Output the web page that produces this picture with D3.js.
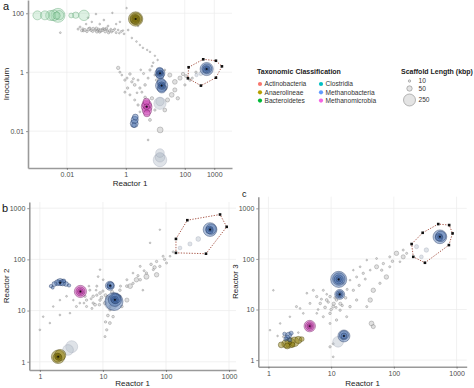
<!DOCTYPE html>
<html>
<head>
<meta charset="utf-8">
<script src="https://cdnjs.cloudflare.com/ajax/libs/d3/7.8.5/d3.min.js"></script>
<style>
  body { margin: 0; background: #fff; }
  svg { display: block; font-family: "Liberation Sans", Arial, sans-serif; }
</style>
</head>
<body>
<div id="chart"></div>
<script>
// taxa + colours (ggplot default hues)
var taxa = ['Actinobacteria', 'Anaerolineae', 'Bacteroidetes', 'Clostridia', 'Methanobacteria', 'Methanomicrobia'];
var taxColors = ['#F8766D', '#B79F00', '#00BA38', '#00BFC4', '#619CFF', '#F564E3'];
var sizeLegend = [10, 50, 250];

// tick values
var ticksA_x = [0.01, 1, 100, 1000];
var ticksA_y = [0.01, 1, 100];
var ticksBC = [1, 10, 100, 1000];

// ---- panel a : Reactor 1 vs Inoculum  [x, y, scaffold kbp]
var grayA = [
  [0.024,29,8],[0.032,26,12],[0.035,30,6],[0.041,27,15],[0.048,24,10],[0.056,29,20],[0.066,26,8],
  [0.078,30,14],[0.09,27,10],[0.105,24,18],[0.12,29,8],[0.14,26,22],[0.17,30,10],[0.2,24,14],
  [0.23,27,8],[0.26,22,12],[0.31,29,6],[0.37,26,10],[0.47,22,8],[0.55,27,6],[0.7,24,8],[0.87,20,6],
  [0.06,31,12],[0.075,24,8],[0.1,31,12],[0.13,23,10],[0.16,27,16],[0.19,29,8],[0.28,25,10],
  [0.33,23,6],[0.42,29,8],[0.6,21,5],[0.8,26,5],[0.036,25,6],[0.22,31,10],[0.11,26,6],
  [0.052,71,5],[0.097,94,5],[0.18,59,6],[0.35,103,4],[0.63,51,5],[1.06,150,4],[1.6,51,5],[2.6,37,5],
  [0.13,43,6],[0.07,51,5],[0.47,43,5],[1.2,27,6],[0.045,43,5],[0.028,34,8],[0.25,37,6],[0.006,22,6],
  [1.6,14.5,5],[2.3,11,5],[3,8.4,4],[3.8,6.7,5],[5.3,5.7,4],[6.6,4.9,5],[9.7,3.6,4],[12,2.6,5],
  [0.55,1.4,20],[0.63,1,8],[0.73,0.8,6],[0.93,0.54,10],[1.1,0.63,8],[1.38,0.87,12],[1.6,0.47,10],
  [2,0.37,14],[2.6,0.54,8],[3,0.29,10],[3.5,0.21,8],[4.5,0.37,12],[5.7,0.63,8],[6.6,1.19,10],
  [7.7,1.6,6],[9.7,0.8,8],[11,0.54,10],[21,1.19,6],[31,0.8,30],[46,0.47,40],[69,0.63,30],
  [87,0.87,20],[110,0.74,15],[36,0.17,40],[26,0.114,30],[21,0.052,25],[46,0.25,30],[58,0.13,20],
  [6.6,0.024,15],[7.7,0.13,20],[4.5,0.14,12],[2.6,0.077,10],[2,0.114,8],[3,0.045,6],[1.38,0.17,8],
  [9.7,0.052,10],[5.7,0.005,6],[21,0.29,40],[150,0.54,12],[101,0.37,10],[0.93,0.21,8],[1.15,0.29,10],
  [240,1,10],[180,0.63,8],[14.6,0.011,60],[3.2,1.2,6],[4,0.9,8],[8.5,2.1,5],[2.4,0.2,6],[1.8,0.6,8]
];
var paleA = [
  [14.4,0.1,120],[14.4,0.088,260],[14.4,0.0018,130],[14.4,0.00105,320],[14.4,0.0013,160],
  [350,0.9,30],[250,0.8,20]
];
var bacteroidetesA = [
  [0.001,85,140],[0.0018,85,140],[0.0028,84,170],[0.0036,85,200],[0.005,85,340],[0.0045,83,90],
  [0.0055,86,150],[0.014,84,40],[0.02,86,70],[0.038,85,190]
];
var anaerolineaeA = [[2.15,64,360],[2.2,65,240],[2.1,63,150],[2.15,64,90],[2.15,64,40],[2.15,64,8]];
var methanobacteriaA = [
  [14,1.1,90],[14.4,0.92,170],[14.6,0.8,110],[14.4,0.92,70],[14.4,0.92,30],[14.4,0.92,8],
  [16,0.45,120],[16.4,0.35,260],[16.6,0.28,140],[16.4,0.35,100],[16.4,0.35,45],[16.4,0.35,8],
  [2.1,0.03,60],[2,0.024,90],[1.93,0.018,110],[1.9,0.016,40],
  [552,1.28,300],[560,1.3,170],[545,1.26,90],[552,1.28,35],[552,1.28,8]
];
var methanomicrobiaA = [[5,0.1,80],[5.1,0.08,150],[5.1,0.067,200],[5.2,0.05,150],[5.2,0.04,80],[5.1,0.067,60],[5.1,0.067,8]];
var hullA = [[135,1.47],[423,2.74],[1140,2.45],[1820,1.58],[1140,0.65],[353,0.35],[128,0.62]];

// ---- panel b : Reactor 1 vs Reactor 2
var grayB = [
  [1,4.2,6],[1.44,5.7,5],[2.08,8.2,6],[3,8.9,5],[3.8,12,8],[5.5,16,10],[7,19,12],[9,22,14],
  [8,30,8],[8.4,46,6],[6.2,25,8],[4.9,22,6],[12.9,5.7,15],[14.5,7.6,12],[11.5,4.2,10],[10.8,3.1,8],
  [12.9,10.3,10],[18.6,25,12],[24,30,14],[30,34,10],[39,40,12],[49,54,10],[63,63,8],[80,73,10],
  [102,85,8],[116,115,6],[90,115,8],[71,91,10],[56,210,5],[80,380,4],[39,73,8],[30,54,6],
  [24,40,8],[18.6,19,12],[16.5,16,10],[9,16,12],[7,14,10],[5.5,12,8],[4.3,14,6],[3.4,16,5],
  [2.65,19,6],[2.08,16,5],[1.63,12,5],[1.13,7.6,5],[9,63,5],[10.1,40,6],[43,25,6],
  [27,30,40],[34,40,35],[49,46,45],[71,50,35],[24,16,30],[10.8,14,20],[7.5,13,15],[11.8,18,25],
  [14,23,20],[5.2,19,10],[6.7,11,8],[12,8,14],[11,6,10],[20,12,12],[17,20,10],[6,30,6],
  [8,20,10],[9.5,18,14],[10,24,10],[6.5,17,8],[8.8,13,12],[11,20,16],[7.8,25,6],[5,14,6],
  [13,12,10],[19,30,8],[36,48,10],[45,60,8],[58,80,12],[66,70,20],[95,100,10],[130,140,8]
];
var paleB = [[3.2,1.97,250],[2.8,1.7,200],[13.5,14,320],[167,167,25],[240,200,30],[325,250,40]];
var anaerolineaeB = [[1.95,1.25,320],[2.1,1.35,220],[1.9,1.2,140],[1.95,1.25,70],[1.95,1.25,25],[1.95,1.25,8]];
var methanobacteriaB = [
  [1.5,30,20],[1.7,33,40],[1.9,35,60],[2.1,36,90],[2.3,35,70],[2.6,33,40],[2.9,31,20],[2.1,36,15],
  [1.6,28,15],[2.4,38,25],[2.1,35,8],
  [12.9,30.5,140],[13.2,31,80],[12.6,30,35],[13,30.5,8],
  [15,15,560],[15.5,16.2,300],[15.8,17,170],[15.5,16.2,90],[15.5,16.2,35],[15.5,16.2,8],
  [500,382,330],[520,390,190],[490,375,100],[500,382,35],[500,382,8]
];
var methanomicrobiaB = [[4.4,23.6,260],[4.4,23.6,140],[4.4,23.6,60],[4.4,23.6,20],[4.4,23.6,6]];
var hullB = [[144,251],[218,582],[720,752],[918,432],[431,129],[144,134]];

// ---- panel c : Reactor 1 vs Reactor 3
var grayC = [
  [1.2,24,5],[1.06,3.9,5],[1.54,5.3,5],[1.73,2.9,6],[2.8,11.4,8],[3.2,10.5,6],[4.1,21,6],[5.2,24,8],
  [5.9,18,10],[6.7,13.2,12],[7.5,24,8],[8.5,15.4,14],[9.6,18,12],[10.8,11.4,15],[12.2,15.4,12],
  [13.9,9.7,10],[9.6,8.4,12],[7.5,7.2,8],[5.9,8.4,6],[12.2,6.2,10],[9.6,5.3,8],[15.6,33,8],
  [20,38,6],[22.6,24,10],[25.5,44,8],[32.5,52,10],[42,60,6],[53,70,30],[68,81,10],[86,110,8],
  [110,129,35],[141,150,8],[76,44,35],[60,33,10],[47,24,35],[42,15.4,35],[37,11.4,8],[44,5.3,40],
  [47,4.6,30],[25.5,15.4,10],[20,11.4,12],[17.7,7.2,8],[29,70,6],[22.6,60,5],[37,95,5],[53,102,6],
  [86,70,8],[125,88,6],[160,129,8],[9.6,1.83,10],[10.8,2.1,8],[10.8,1.16,6],[4.6,13.2,8],
  [3.6,8.4,6],[2.2,7.2,5],[141,110,30],[11,13,20],[8,11,14],[14,13,18],[17,17,12],
  [9,14,10],[10,10,12],[12,11,8],[7,16,8],[8.5,20,6],[11.5,17,10],[6.2,10,6],[15,12,10],
  [18,25,8],[28,30,10],[35,40,8],[64,60,10],[95,90,12],[3,3.5,5],[1.4,3,5]
];
var paleC = [[12.9,2.3,200],[230,175,30],[275,110,25],[330,150,35]];
var anaerolineaeC = [[1.6,2,60],[1.9,2.1,120],[2.2,2.2,180],[2.6,2.3,160],[3,2.5,90],[3.4,2.6,40],[2,1.9,60],[2.4,2,50],[2.2,2.2,20]];
var methanobacteriaC = [
  [13.2,39.4,450],[13.3,40,270],[13.2,39.4,140],[13.2,39.4,50],[13.2,39.4,8],
  [13.7,19.9,170],[13.7,20,90],[13.7,19.9,35],[13.7,19.9,8],
  [16,3,250],[16,3.1,140],[16,3,60],[16,3,8],
  [2.1,3.1,60],[2,2.8,40],[2.3,3.4,30],[1.9,2.6,30],[2.2,2.5,25],[1.8,3.3,20],
  [542,274,330],[560,280,190],[525,268,100],[542,274,35],[542,274,8]
];
var methanomicrobiaC = [[4.56,4.7,230],[4.56,4.7,130],[4.56,4.7,55],[4.56,4.7,20],[4.56,4.7,6]];
var hullC = [[192,197],[288,329],[510,489],[762,467],[863,320],[754,188],[313,84],[204,110]];

var W = 474, H = 388;
var svg = d3.select('#chart').append('svg').attr('width', W).attr('height', H);

var rScale = d3.scaleSqrt().domain([0, 250]).range([0, 6]);

var styles = {
  gray:            {fill: '#c2c2c2', fo: 0.5,  stroke: '#6f6f6f', so: 0.75},
  pale:            {fill: '#b9c0cc', fo: 0.45, stroke: '#8a94a6', so: 0.6},
  Bacteroidetes:   {fill: '#9fd6ae', fo: 0.35, stroke: '#4f9a66', so: 0.8},
  Anaerolineae:    {fill: '#8e7e10', fo: 0.5,  stroke: '#3e3700', so: 0.85},
  Methanobacteria: {fill: '#466fae', fo: 0.45, stroke: '#172c57', so: 0.85},
  Methanomicrobia: {fill: '#d14ab9', fo: 0.5,  stroke: '#5e1552', so: 0.85}
};

function panel(p) {
  var x = d3.scaleLog().domain(p.xd).range(p.xr);
  var y = d3.scaleLog().domain(p.yd).range(p.yr);
  var g = svg.append('g');

  // grid
  g.selectAll('.gx').data(p.xt).enter().append('line')
    .attr('x1', d => x(d)).attr('x2', d => x(d))
    .attr('y1', p.yr[0]).attr('y2', p.yr[1])
    .style('stroke', '#ebebeb').style('stroke-width', 0.7);
  g.selectAll('.gy').data(p.yt).enter().append('line')
    .attr('y1', d => y(d)).attr('y2', d => y(d))
    .attr('x1', p.xr[0]).attr('x2', p.xr[1])
    .style('stroke', '#ebebeb').style('stroke-width', 0.7);

  // points, biggest first so small ones stay on top
  function dots(data, key) {
    var s = styles[key];
    g.append('g').selectAll('circle')
      .data(data.slice().sort((a, b) => b[2] - a[2]))
      .enter().append('circle')
      .attr('cx', d => x(d[0])).attr('cy', d => y(d[1]))
      .attr('r', d => Math.max(0.8, rScale(d[2])))
      .style('fill', d => (key !== 'gray' && key !== 'pale' && d[2] < 10) ? '#111' : s.fill)
      .style('fill-opacity', d => (key !== 'gray' && key !== 'pale' && d[2] < 10) ? 1 : s.fo)
      .style('stroke', s.stroke).style('stroke-opacity', s.so)
      .style('stroke-width', 0.45);
  }
  dots(p.gray, 'gray');
  dots(p.pale, 'pale');
  p.clusters.forEach(c => dots(c[1], c[0]));

  // hull
  var line = d3.line().x(d => x(d[0])).y(d => y(d[1])).curve(d3.curveLinearClosed);
  g.append('path').attr('d', line(p.hull))
    .style('fill', 'none').style('stroke', '#a04a3a')
    .style('stroke-width', 0.9).style('stroke-dasharray', '1.3,1.4');
  g.selectAll('.hv').data(p.hull).enter().append('rect')
    .attr('x', d => x(d[0]) - 1.3).attr('y', d => y(d[1]) - 1.3)
    .attr('width', 2.6).attr('height', 2.6).style('fill', '#111');

  // axes
  var ax = g.append('g').attr('transform', 'translate(0,' + p.yr[0] + ')')
    .call(d3.axisBottom(x).tickValues(p.xt).tickFormat(d3.format('~g')).tickSizeInner(2).tickSizeOuter(0).tickPadding(2));
  var ay = g.append('g').attr('transform', 'translate(' + p.xr[0] + ',0)')
    .call(d3.axisLeft(y).tickValues(p.yt).tickFormat(d3.format('~g')).tickSizeInner(2).tickSizeOuter(0).tickPadding(2));
  [ax, ay].forEach(function (a) {
    a.select('.domain').style('stroke', '#9a9a9a').style('stroke-width', 1.6);
    a.selectAll('.tick line').style('stroke', '#555').style('stroke-width', 0.6);
    a.selectAll('text').style('font-size', '7px').style('fill', '#4d4d4d').style('font-family', '"Liberation Sans", Arial, sans-serif');
  });

  g.append('text').attr('x', (p.xr[0] + p.xr[1]) / 2).attr('y', p.xlabY)
    .attr('text-anchor', 'middle').style('font-size', '8px').style('fill', '#222').text('Reactor 1');
  g.append('text').attr('transform', 'translate(' + p.ylabX + ',' + (p.yr[0] + p.yr[1]) / 2 + ') rotate(-90)')
    .attr('text-anchor', 'middle').style('font-size', '8px').style('fill', '#222').text(p.ylab);
  g.append('text').attr('x', p.tag[0]).attr('y', p.tag[1])
    .style('font-size', p.tag[3]).style('fill', '#111').text(p.tag[2]);
}

panel({
  xd: [0.00048, 4000], xr: [28, 232], yd: [0.00056, 282], yr: [168, 0],
  xt: ticksA_x, yt: ticksA_y, xlabY: 186, ylabX: 9, ylab: 'Inoculum', tag: [3, 10, 'a', '11px'],
  gray: grayA, pale: paleA, hull: hullA,
  clusters: [['Bacteroidetes', bacteroidetesA], ['Anaerolineae', anaerolineaeA],
             ['Methanobacteria', methanobacteriaA], ['Methanomicrobia', methanomicrobiaA]]
});
panel({
  xd: [0.68, 1290], xr: [29.3, 236], yd: [0.69, 1320], yr: [370, 202],
  xt: ticksBC, yt: ticksBC, xlabY: 386, ylabX: 9, ylab: 'Reactor 2', tag: [2, 212, 'b', '11px'],
  gray: grayB, pale: paleB, hull: hullB,
  clusters: [['Anaerolineae', anaerolineaeB], ['Methanobacteria', methanobacteriaB], ['Methanomicrobia', methanomicrobiaB]]
});
panel({
  xd: [0.69, 1450], xr: [258.3, 466.7], yd: [0.74, 1700], yr: [366.7, 196.7],
  xt: ticksBC, yt: ticksBC, xlabY: 386, ylabX: 238, ylab: 'Reactor 3', tag: [242, 197, 'c', '9px'],
  gray: grayC, pale: paleC, hull: hullC,
  clusters: [['Anaerolineae', anaerolineaeC], ['Methanobacteria', methanobacteriaC], ['Methanomicrobia', methanomicrobiaC]]
});

// legend: taxonomic classification
var leg = svg.append('g');
leg.append('text').attr('x', 257).attr('y', 74).style('font-size', '7px').style('font-weight', 'bold')
  .style('fill', '#222').text('Taxonomic Classification');
var items = leg.selectAll('.item').data(taxa).enter().append('g')
  .attr('transform', (d, i) => 'translate(' + (i < 3 ? 260 : 321) + ',' + (84 + (i % 3) * 8.3) + ')');
items.append('circle').attr('r', 2.1).style('fill', (d, i) => taxColors[i]);
items.append('text').attr('x', 4.5).attr('dy', '0.35em').style('font-size', '6.6px').style('fill', '#333').text(d => d);

// legend: scaffold length
leg.append('text').attr('x', 401).attr('y', 74).style('font-size', '7px').style('font-weight', 'bold')
  .style('fill', '#222').text('Scaffold Length (kbp)');
var sy = [81, 88.5, 100];
var sz = leg.selectAll('.sz').data(sizeLegend).enter().append('g')
  .attr('transform', (d, i) => 'translate(409.5,' + sy[i] + ')');
sz.append('circle').attr('r', d => rScale(d))
  .style('fill', '#e4e4e4').style('stroke', '#8a8a8a').style('stroke-width', 0.6);
sz.append('text').attr('x', 9).attr('dy', '0.35em').style('font-size', '6.6px').style('fill', '#333').text(d => d);
</script>
</body>
</html>
